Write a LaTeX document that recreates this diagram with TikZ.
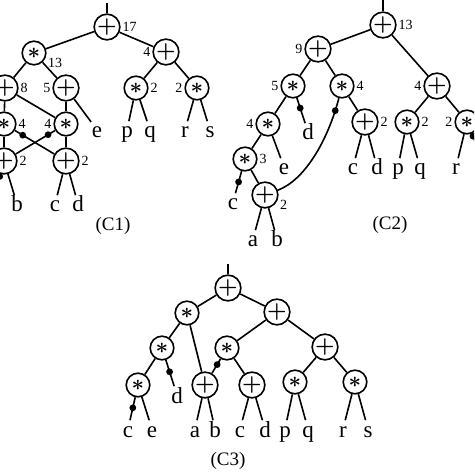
\documentclass[tikz,border=0pt]{standalone}
\usepackage{fontspec}
\setmainfont{Liberation Serif}
\usepackage{amsmath}

\begin{document}
\begin{tikzpicture}[x=0.5pt, y=-0.5pt, line width=0.8pt,
    onode/.style={draw, circle, minimum size=11.8pt, inner sep=0pt, font=\fontsize{11}{13}\selectfont\boldmath},
    dnode/.style={fill=black, circle, minimum size=3.4pt, inner sep=0pt},
    lnode/.style={anchor=base, inner sep=0pt, text height=8pt, text depth=0pt, font=\fontsize{11.5}{13}\selectfont},
    nlab/.style={font=\fontsize{7}{8}\selectfont, inner sep=0.6pt},
    tlab/.style={anchor=base, font=\fontsize{9.5}{11}\selectfont}]
    \useasboundingbox (0,0) rectangle (474,474);
    \clip (0,0) rectangle (474,474);

    \node[onode, label={[nlab]right:17}] (a0) at (107,27) {$+$};
    \coordinate (a0t) at (107,3);
    \node[onode, label={[nlab]-15:13}] (a1) at (34,53) {$\ast$};
    \node[onode, label={[nlab]left:4}] (a2) at (166,52) {$+$};
    \node[onode, label={[nlab]right:8}] (a3) at (5,88) {$+$};
    \node[onode, label={[nlab]left:5}] (a4) at (66,88) {$+$};
    \node[onode, label={[nlab]right:2}] (a5) at (136,88) {$\ast$};
    \node[onode, label={[nlab]left:2}] (a6) at (197,88) {$\ast$};
    \node[onode, label={[nlab]right:4}] (a7) at (4,124) {$\ast$};
    \node[onode, label={[nlab]left:4}] (a8) at (66,124) {$\ast$};
    \node[onode, label={[nlab]right:2}] (a9) at (4,161) {$+$};
    \node[onode, label={[nlab]right:2}] (a10) at (66,161) {$+$};
    \node[lnode] (ae) at (97,138) {e};
    \node[lnode] (ap) at (127,138) {p};
    \node[lnode] (aq) at (150,138) {q};
    \node[lnode] (ar) at (185,138) {r};
    \node[lnode] (as) at (210,138) {s};
    \coordinate (aa) at (-6,197);
    \node[lnode] (ab) at (17,212) {b};
    \node[lnode] (ac) at (55,212) {c};
    \node[lnode] (ad) at (78,212) {d};
    \node[tlab] (acap) at (113,231) {(C1)};

    \draw (a0t) -- (a0);
    \draw (a0) -- (a1);
    \draw (a0) -- (a2);
    \draw (a1) -- (a3);
    \draw (a1) -- (a4);
    \draw (a2) -- (a5);
    \draw (a2) -- (a6);
    \draw (a3) -- (a7);
    \draw (a3) -- (a8);
    \draw (a4) -- (a8);
    \draw (a4) -- (ae);
    \draw (a5) -- (ap);
    \draw (a5) -- (aq);
    \draw (a6) -- (ar);
    \draw (a6) -- (as);
    \draw (a7) -- (a9);
    \draw (a7) -- node[dnode, pos=0.2] {} (a10);
    \draw (a8) -- (a10);
    \draw (a8) -- node[dnode, pos=0.18] {} (a9);
    \draw (a9) -- node[dnode, pos=0.1] {} (aa);
    \draw (a9) -- (ab);
    \draw (a10) -- (ac);
    \draw (a10) -- (ad);

    \node[onode, label={[nlab]right:13}] (b0) at (383,25) {$+$};
    \coordinate (b0t) at (383,0);
    \node[onode, label={[nlab]left:9}] (b1) at (318,49) {$+$};
    \node[onode, label={[nlab]left:4}] (b2) at (437,86) {$+$};
    \node[onode, label={[nlab]left:5}] (b3) at (293,86) {$\ast$};
    \node[onode, label={[nlab]right:4}] (b4) at (342,86) {$\ast$};
    \node[onode, label={[nlab]left:4}] (b5) at (268,124) {$\ast$};
    \node[onode, label={[nlab]right:2}] (b6) at (365,122) {$+$};
    \node[onode, label={[nlab]right:2}] (b7) at (407,122) {$\ast$};
    \node[onode, label={[nlab]left:2}] (b8) at (467,122) {$\ast$};
    \node[onode, label={[nlab]right:3}] (b9) at (245,159) {$\ast$};
    \node[onode, label={[nlab]-15:2}] (b10) at (265,195) {$+$};
    \node[lnode] (bd) at (308,140) {d};
    \node[lnode] (be) at (284,175) {e};
    \node[lnode] (bc) at (233,210) {c};
    \node[lnode] (ba) at (253,247) {a};
    \node[lnode] (bb) at (277,247) {b};
    \node[lnode] (bc2) at (353,175) {c};
    \node[lnode] (bd2) at (377,175) {d};
    \node[lnode] (bp) at (398,175) {p};
    \node[lnode] (bq) at (420,175) {q};
    \node[lnode] (br) at (456,175) {r};
    \coordinate (bs) at (485,165);
    \node[tlab] (bcap) at (390,230) {(C2)};

    \draw (b0t) -- (b0);
    \draw (b0) -- (b1);
    \draw (b0) -- (b2);
    \draw (b1) -- (b3);
    \draw (b1) -- (b4);
    \draw (b3) -- (b5);
    \draw (b3) -- node[dnode, pos=0.4] {} (bd);
    \draw (b5) -- (b9);
    \draw (b5) -- (be);
    \draw (b9) -- node[dnode, pos=0.49] {} (bc);
    \draw (b9) -- (b10);
    \draw (b10) -- (ba);
    \draw (b10) -- (bb);
    \draw (b10) .. controls (305,180) and (328,140) .. node[dnode, pos=0.9] {} (b4);
    \draw (b4) -- (b6);
    \draw (b6) -- (bc2);
    \draw (b6) -- (bd2);
    \draw (b2) -- (b7);
    \draw (b2) -- (b8);
    \draw (b7) -- (bp);
    \draw (b7) -- (bq);
    \draw (b8) -- (br);
    \draw (b8) -- node[dnode, pos=0.08] {} (bs);

    \node[onode] (c0) at (228,288) {$+$};
    \coordinate (c0t) at (228,264);
    \node[onode] (c1) at (187,313) {$\ast$};
    \node[onode] (c2) at (277,312) {$+$};
    \node[onode] (c3) at (162,348) {$\ast$};
    \node[onode] (c4) at (227,348) {$\ast$};
    \node[onode] (c5) at (325,347) {$+$};
    \node[onode] (c6) at (138,385) {$\ast$};
    \node[onode] (c7) at (205,385) {$+$};
    \node[onode] (c8) at (252,385) {$+$};
    \node[onode] (c9) at (295,382) {$\ast$};
    \node[onode] (c10) at (355,382) {$\ast$};
    \node[lnode] (cd) at (177,403) {d};
    \node[lnode] (cc) at (128,437) {c};
    \node[lnode] (ce) at (152,437) {e};
    \node[lnode] (ca) at (195,437) {a};
    \node[lnode] (cb) at (215,437) {b};
    \node[lnode] (cc2) at (240,437) {c};
    \node[lnode] (cd2) at (265,437) {d};
    \node[lnode] (cp) at (285,437) {p};
    \node[lnode] (cq) at (308,437) {q};
    \node[lnode] (cr) at (343,437) {r};
    \node[lnode] (cs) at (368,437) {s};
    \node[tlab] (ccap) at (228,465) {(C3)};

    \draw (c0t) -- (c0);
    \draw (c0) -- (c1);
    \draw (c0) -- (c2);
    \draw (c1) -- (c3);
    \draw (c1) -- (c7);
    \draw (c3) -- (c6);
    \draw (c3) -- node[dnode, pos=0.45] {} (cd);
    \draw (c6) -- node[dnode, pos=0.46] {} (cc);
    \draw (c6) -- (ce);
    \draw (c7) -- (ca);
    \draw (c7) -- (cb);
    \draw (c2) -- (c4);
    \draw (c2) -- (c5);
    \draw (c4) -- node[dnode, pos=0.4] {} (c7);
    \draw (c4) -- (c8);
    \draw (c8) -- (cc2);
    \draw (c8) -- (cd2);
    \draw (c5) -- (c9);
    \draw (c5) -- (c10);
    \draw (c9) -- (cp);
    \draw (c9) -- (cq);
    \draw (c10) -- (cr);
    \draw (c10) -- (cs);
\end{tikzpicture}
\end{document}
